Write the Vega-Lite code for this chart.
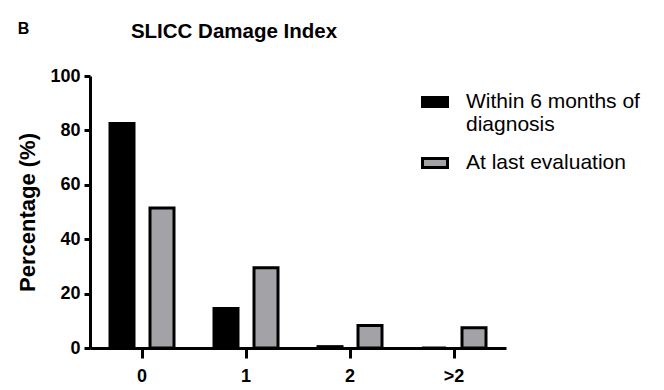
{
  "$schema": "https://vega.github.io/schema/vega-lite/v6.json",
  "width": 416,
  "height": 272,
  "autosize": {"type": "none"},
  "padding": {"left": 90, "top": 76, "right": 158, "bottom": 42},
  "background": "white",
  "config": {
    "view": {"stroke": null},
    "font": "Liberation Sans",
    "axis": {"grid": false, "domainColor": "black", "domainWidth": 3, "tickColor": "black", "tickWidth": 3, "labelColor": "black", "titleColor": "black", "labelFont": "Liberation Sans", "titleFont": "Liberation Sans"}
  },
  "title": {"text": "SLICC Damage Index", "anchor": "middle", "frame": "group", "dx": -64, "dy": 38, "offset": 0, "fontSize": 20.5, "fontWeight": "bold", "color": "black", "baseline": "alphabetic", "font": "Liberation Sans"},
  "data": {"values": [
    {"index": "0", "group": "Within 6 months of diagnosis", "pct": 82.5},
    {"index": "0", "group": "At last evaluation", "pct": 51.5},
    {"index": "1", "group": "Within 6 months of diagnosis", "pct": 14.5},
    {"index": "1", "group": "At last evaluation", "pct": 29.5},
    {"index": "2", "group": "Within 6 months of diagnosis", "pct": 0.5},
    {"index": "2", "group": "At last evaluation", "pct": 8.3},
    {"index": ">2", "group": "Within 6 months of diagnosis", "pct": 0},
    {"index": ">2", "group": "At last evaluation", "pct": 7.4}
  ]},
  "layer": [
    {
      "mark": {"type": "bar", "stroke": "black", "strokeWidth": 3, "strokeJoin": "miter"},
      "encoding": {
        "x": {"field": "index", "type": "nominal", "sort": ["0", "1", "2", ">2"], "scale": {"paddingInner": 0, "paddingOuter": 0},
          "axis": {"title": null, "labelAngle": 0, "labelFontSize": 18, "labelFontWeight": "bold", "tickSize": 10, "labelPadding": 9}},
        "xOffset": {"field": "group", "type": "nominal", "sort": ["Within 6 months of diagnosis", "At last evaluation"], "scale": {"paddingInner": 0.4, "paddingOuter": 0.5}},
        "y": {"field": "pct", "type": "quantitative", "scale": {"domain": [0, 100]},
          "axis": {"title": "Percentage (%)", "values": [0, 20, 40, 60, 80, 100], "tickSize": 6, "labelFontSize": 18, "labelFontWeight": "bold", "labelPadding": 4, "titleFontSize": 22, "titleFontWeight": "bold", "titlePadding": 10}},
        "fill": {"field": "group", "type": "nominal", "sort": ["Within 6 months of diagnosis", "At last evaluation"],
          "scale": {"domain": ["Within 6 months of diagnosis", "At last evaluation"], "range": ["#000000", "#a3a3a7"]},
          "legend": {"orient": "none", "legendX": 331, "legendY": 12, "title": null, "padding": 0,
            "symbolType": "M-1,-0.36H1V0.36H-1Z", "symbolSize": 625, "symbolStrokeColor": "black", "symbolStrokeWidth": 3,
            "labelFontSize": 21, "labelColor": "black", "labelFont": "Liberation Sans", "labelLimit": 300, "labelOffset": 17, "rowPadding": 14,
            "labelExpr": "datum.label == 'Within 6 months of diagnosis' ? ['Within 6 months of', 'diagnosis'] : datum.label"}}
      }
    },
    {
      "mark": {"type": "bar", "opacity": 0},
      "encoding": {
        "x": {"field": "index", "type": "nominal", "sort": ["0", "1", "2", ">2"]},
        "xOffset": {"field": "group", "type": "nominal", "sort": ["Within 6 months of diagnosis", "At last evaluation"]},
        "y": {"field": "pct", "type": "quantitative",
          "axis": {"orient": "right", "domain": false, "ticks": false, "labels": false, "title": "B", "titleAngle": 0, "titleX": -483, "titleY": -48, "titleAlign": "center", "titleBaseline": "middle", "titleFontSize": 16, "titleFontWeight": "bold"}}
      }
    }
  ],
  "resolve": {"axis": {"y": "independent"}}
}
